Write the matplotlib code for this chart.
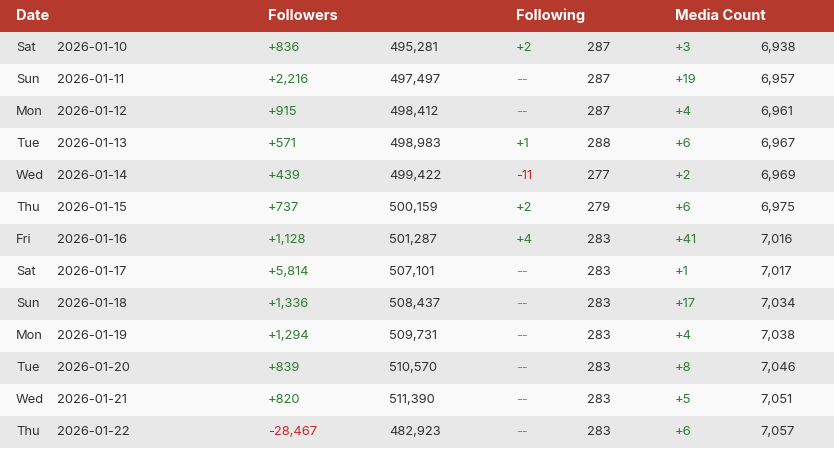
import matplotlib
matplotlib.use("Agg")
import matplotlib.pyplot as plt
from matplotlib.patches import Rectangle

plt.rcParams['font.family'] = ['Inter', 'DejaVu Sans']

days = ["Sat","Sun","Mon","Tue","Wed","Thu","Fri","Sat","Sun","Mon","Tue","Wed","Thu"]
dates = ["2026-01-10","2026-01-11","2026-01-12","2026-01-13","2026-01-14","2026-01-15","2026-01-16",
         "2026-01-17","2026-01-18","2026-01-19","2026-01-20","2026-01-21","2026-01-22"]
fol_change = [836,2216,915,571,439,737,1128,5814,1336,1294,839,820,-28467]
fol_total = [495281,497497,498412,498983,499422,500159,501287,507101,508437,509731,510570,511390,482923]
fing_change = [2,0,0,1,-11,2,4,0,0,0,0,0,0]
fing_total = [287,287,287,288,277,279,283,283,283,283,283,283,283]
media_change = [3,19,4,6,2,6,41,1,17,4,8,5,6]
media_total = [6938,6957,6961,6967,6969,6975,7016,7017,7034,7038,7046,7051,7057]
headers = [("Date",16),("Followers",268),("Following",516),("Media Count",675)]

W, H = 834, 449
fig = plt.figure(figsize=(W/100, H/100), dpi=100)
ax = fig.add_axes([0,0,1,1])
ax.set_xlim(0, W); ax.set_ylim(H, 0); ax.axis('off')

hh, rh = 32, 32
ax.add_patch(Rectangle((0,0), W, hh, color='#b5392c', lw=0))
for t, x in headers:
    ax.text(x, hh/2, t, color='white', fontsize=10.5, fontweight='bold', va='center', ha='left')

green, red, gray, dark = '#2e7d32', '#c62828', '#888888', '#333333'
def chg(v):
    if v == 0: return "--", gray
    return (f"+{v:,}" if v > 0 else f"{v:,}"), (green if v > 0 else red)

for i in range(len(days)):
    y0 = hh + i*rh
    ax.add_patch(Rectangle((0,y0), W, rh, color='#e8e8e8' if i % 2 == 0 else '#f9f9f9', lw=0))
    yc = y0 + rh/2
    fs = 9.3
    ax.text(16, yc, days[i], color=dark, fontsize=fs, va='center')
    ax.text(57, yc, dates[i], color=dark, fontsize=fs, va='center')
    for v, x in [(fol_change[i],268),(fing_change[i],516),(media_change[i],675)]:
        s, c = chg(v)
        ax.text(x, yc, s, color=c, fontsize=fs, va='center')
    ax.text(389, yc, f"{fol_total[i]:,}", color=dark, fontsize=fs, va='center')
    ax.text(587, yc, f"{fing_total[i]:,}", color=dark, fontsize=fs, va='center')
    ax.text(760, yc, f"{media_total[i]:,}", color=dark, fontsize=fs, va='center')

fig.savefig("out.png", dpi=100)
